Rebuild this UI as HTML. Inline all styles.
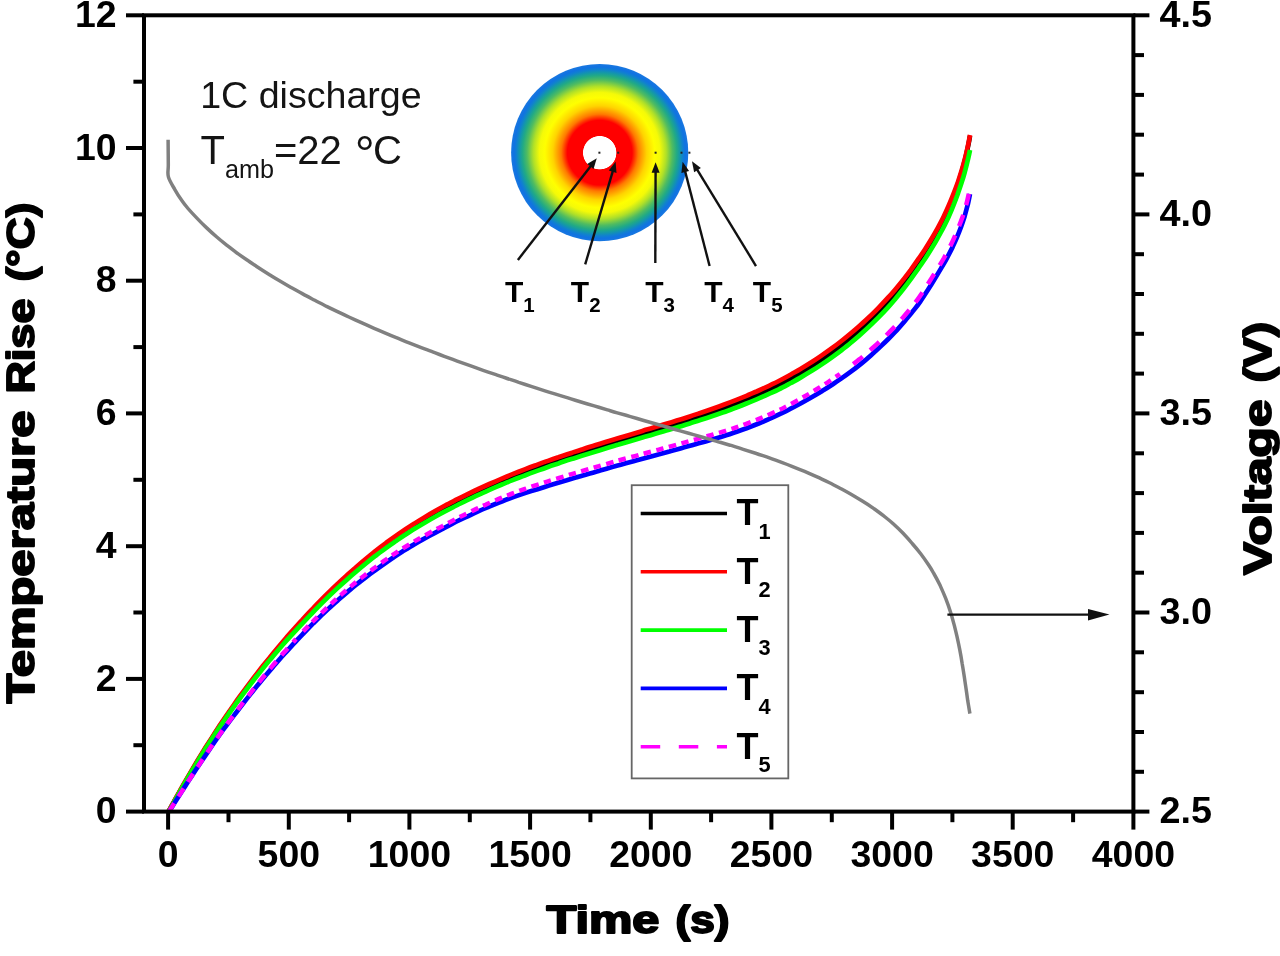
<!DOCTYPE html>
<html lang="en"><head><meta charset="utf-8"><title>Temperature rise and voltage during 1C discharge</title>
<style>
html,body{margin:0;padding:0;background:#fff;}
body{width:1280px;height:956px;overflow:hidden;}
svg{display:block;}
.tk{font-family:"Liberation Sans",Arial,sans-serif;font-weight:700;font-size:36.5px;fill:#000;}
.ax{font-family:"Liberation Sans",Arial,sans-serif;font-weight:700;font-size:38.6px;fill:#000;stroke:#000;stroke-width:1.9px;stroke-linejoin:round;}
.an{font-family:"Liberation Sans",Arial,sans-serif;font-weight:400;font-size:40px;fill:#141414;}
.lb{font-family:"Liberation Sans",Arial,sans-serif;font-weight:700;font-size:30px;fill:#000;}
.lg{font-family:"Liberation Sans",Arial,sans-serif;font-weight:700;font-size:36px;fill:#000;}
</style></head><body>
<svg width="1280" height="956" viewBox="0 0 1280 956">
<defs>
<radialGradient id="rg" cx="50%" cy="50%" r="50%">
<stop offset="0.000" stop-color="#ffffff"/>
<stop offset="0.184" stop-color="#ffffff"/>
<stop offset="0.192" stop-color="#ff0000"/>
<stop offset="0.365" stop-color="#ff0000"/>
<stop offset="0.435" stop-color="#ff7a00"/>
<stop offset="0.530" stop-color="#ffd400"/>
<stop offset="0.620" stop-color="#ffff00"/>
<stop offset="0.680" stop-color="#f4fa08"/>
<stop offset="0.750" stop-color="#b0e028"/>
<stop offset="0.820" stop-color="#50bc60"/>
<stop offset="0.870" stop-color="#22aa84"/>
<stop offset="0.905" stop-color="#1498a8"/>
<stop offset="0.940" stop-color="#1080d0"/>
<stop offset="0.968" stop-color="#1072e2"/>
<stop offset="1.000" stop-color="#1a78e0"/>
</radialGradient>
</defs>
<rect x="0" y="0" width="1280" height="956" fill="#ffffff"/>
<path d="M168.6 811.6C169.5 810.0 171.8 805.7 173.8 802.2C175.7 798.7 178.4 794.0 180.4 790.5C182.4 787.0 183.7 784.6 185.8 781.1C187.8 777.6 190.6 772.9 192.7 769.4C194.8 765.8 196.2 763.5 198.3 760.0C200.5 756.5 203.4 751.8 205.5 748.3C207.7 744.8 209.2 742.5 211.5 739.0C213.7 735.5 216.7 730.8 219.0 727.4C221.3 723.9 222.8 721.7 225.2 718.3C227.5 714.9 230.6 710.4 233.0 707.0C235.4 703.7 237.0 701.4 239.4 698.1C241.9 694.7 245.2 690.3 247.6 687.0C250.1 683.7 251.8 681.5 254.3 678.2C256.8 674.9 260.3 670.6 262.8 667.3C265.4 664.1 267.1 662.0 269.8 658.8C272.4 655.6 275.9 651.3 278.6 648.2C281.3 645.0 283.1 642.9 285.8 639.8C288.5 636.7 292.2 632.6 295.0 629.5C297.8 626.5 299.6 624.4 302.5 621.4C305.3 618.3 309.1 614.3 312.0 611.3C314.8 608.2 316.8 606.2 319.7 603.3C322.6 600.3 326.6 596.4 329.5 593.6C332.5 590.7 334.5 588.8 337.5 585.9C340.6 583.1 344.6 579.4 347.7 576.6C350.8 573.9 352.9 572.0 356.0 569.4C359.1 566.7 363.3 563.1 366.5 560.5C369.7 557.9 371.8 556.2 375.0 553.7C378.3 551.1 382.6 547.9 385.9 545.4C389.2 543.0 391.8 541.2 394.7 539.2C397.7 537.1 400.3 535.3 403.7 533.1C407.1 530.8 411.6 527.9 415.0 525.8C418.5 523.6 420.8 522.2 424.3 520.1C427.7 518.1 432.4 515.4 436.0 513.4C439.5 511.4 441.9 510.1 445.4 508.2C449.0 506.3 453.8 503.8 457.5 502.0C461.1 500.2 463.5 499.0 467.2 497.2C470.8 495.4 475.8 493.1 479.5 491.3C483.2 489.6 485.7 488.5 489.4 486.9C493.1 485.2 498.2 483.1 501.9 481.5C505.7 479.9 508.2 478.9 512.0 477.3C515.8 475.8 520.9 473.8 524.8 472.3C528.6 470.9 531.2 469.9 535.0 468.5C538.9 467.1 544.1 465.2 547.9 463.8C551.8 462.5 554.4 461.6 558.3 460.3C562.2 458.9 567.4 457.2 571.4 455.9C575.3 454.6 577.9 453.8 581.8 452.5C585.8 451.3 591.0 449.6 595.0 448.4C598.9 447.2 601.5 446.4 605.5 445.2C609.4 444.0 614.7 442.4 618.7 441.2C622.6 440.0 625.3 439.2 629.2 438.1C633.2 436.9 638.5 435.3 642.5 434.2C646.4 433.0 649.1 432.2 653.0 431.0C657.0 429.9 662.3 428.3 666.2 427.1C670.2 425.9 672.8 425.1 676.7 423.9C680.7 422.7 685.9 421.1 689.8 419.8C693.8 418.6 696.4 417.7 700.3 416.4C704.2 415.1 709.4 413.4 713.3 412.0C717.2 410.7 719.7 409.8 723.6 408.4C727.4 407.0 732.6 405.0 736.4 403.6C740.2 402.1 743.2 400.9 746.5 399.5C749.9 398.1 752.8 396.9 756.6 395.3C760.3 393.6 765.3 391.4 769.0 389.7C772.7 388.0 775.2 386.8 778.8 385.0C782.5 383.1 787.3 380.5 790.9 378.5C794.5 376.5 796.9 375.2 800.5 373.1C804.0 371.0 808.7 368.1 812.2 365.9C815.7 363.7 818.0 362.2 821.4 359.9C824.8 357.6 829.3 354.5 832.6 352.1C835.9 349.6 838.1 348.0 841.4 345.4C844.6 342.9 848.9 339.4 852.1 336.7C855.3 334.1 857.4 332.2 860.5 329.5C863.6 326.7 867.6 322.9 870.6 320.1C873.6 317.2 875.6 315.2 878.5 312.2C881.4 309.3 885.2 305.2 888.0 302.1C890.8 299.1 892.6 297.0 895.3 293.8C898.0 290.6 901.5 286.3 904.1 283.0C906.6 279.8 908.3 277.6 910.8 274.2C913.2 270.8 916.4 266.2 918.8 262.7C921.1 259.3 922.7 257.0 924.9 253.5C927.1 250.0 929.9 245.4 932.0 241.8C934.1 238.3 935.5 236.0 937.4 232.3C939.3 228.6 941.9 223.6 943.7 219.8C945.5 215.9 946.7 213.3 948.3 209.4C950.0 205.5 952.1 200.2 953.6 196.3C955.1 192.3 956.1 189.7 957.5 185.6C958.8 181.6 960.5 176.1 961.7 172.0C962.9 167.8 963.7 165.1 964.7 160.9C965.8 156.8 967.0 151.2 967.9 147.0C968.8 142.8 969.7 137.7 970.0 135.8" fill="none" stroke="#000000" stroke-width="4.7" stroke-linejoin="round"/>
<path d="M168.6 811.2C169.5 809.6 171.8 805.3 173.8 801.8C175.7 798.2 178.4 793.5 180.4 790.0C182.4 786.4 183.7 784.1 185.8 780.5C187.8 777.0 190.6 772.3 192.7 768.7C194.8 765.2 196.2 762.8 198.3 759.3C200.5 755.8 203.4 751.1 205.5 747.5C207.7 744.0 209.2 741.7 211.5 738.2C213.7 734.7 216.7 730.0 219.0 726.5C221.3 723.0 222.8 720.7 225.2 717.3C227.5 713.9 230.6 709.4 233.0 706.0C235.4 702.6 237.0 700.3 239.4 697.0C241.9 693.6 245.2 689.1 247.6 685.8C250.1 682.5 251.8 680.3 254.3 677.0C256.8 673.7 260.3 669.3 262.8 666.0C265.4 662.7 267.1 660.6 269.8 657.4C272.4 654.1 275.9 649.9 278.6 646.7C281.3 643.5 283.1 641.4 285.8 638.2C288.5 635.1 292.2 631.0 295.0 627.9C297.8 624.8 299.6 622.7 302.5 619.7C305.3 616.6 309.1 612.5 312.0 609.5C314.8 606.4 316.8 604.4 319.7 601.4C322.6 598.5 326.6 594.5 329.5 591.6C332.5 588.7 334.5 586.8 337.5 583.9C340.6 581.1 344.6 577.3 347.7 574.5C350.8 571.7 352.9 569.9 356.0 567.2C359.1 564.5 363.3 560.9 366.5 558.3C369.7 555.6 371.8 553.9 375.0 551.3C378.3 548.8 382.6 545.5 385.9 543.0C389.2 540.6 391.8 538.7 394.7 536.7C397.7 534.6 400.3 532.8 403.7 530.5C407.1 528.2 411.6 525.3 415.0 523.1C418.5 520.9 420.8 519.5 424.3 517.4C427.7 515.3 432.4 512.6 436.0 510.6C439.5 508.6 441.9 507.3 445.4 505.4C449.0 503.5 453.8 501.1 457.5 499.2C461.1 497.4 463.5 496.2 467.2 494.4C470.8 492.6 475.8 490.2 479.5 488.5C483.2 486.8 485.7 485.7 489.4 484.0C493.1 482.4 498.2 480.2 501.9 478.6C505.7 477.0 508.2 476.0 512.0 474.4C515.8 472.9 520.9 470.9 524.8 469.4C528.6 467.9 531.2 466.9 535.0 465.5C538.9 464.1 544.1 462.2 547.9 460.9C551.8 459.5 554.4 458.6 558.3 457.3C562.2 455.9 567.4 454.2 571.4 452.9C575.3 451.6 577.9 450.7 581.8 449.5C585.8 448.2 591.0 446.5 595.0 445.3C598.9 444.1 601.5 443.3 605.5 442.0C609.4 440.8 614.7 439.2 618.7 438.0C622.6 436.8 625.3 436.0 629.2 434.9C633.2 433.7 638.5 432.1 642.5 430.9C646.4 429.7 649.1 429.0 653.0 427.8C657.0 426.6 662.3 425.0 666.2 423.8C670.2 422.6 672.8 421.8 676.7 420.6C680.7 419.4 685.9 417.7 689.8 416.4C693.8 415.2 696.4 414.3 700.3 413.0C704.2 411.7 709.4 409.9 713.3 408.6C717.2 407.2 719.7 406.3 723.6 404.8C727.4 403.4 732.6 401.4 736.4 399.9C740.2 398.4 743.2 397.2 746.5 395.8C749.9 394.4 752.8 393.1 756.6 391.5C760.3 389.8 765.3 387.5 769.0 385.8C772.7 384.0 775.2 382.9 778.8 381.0C782.5 379.1 787.3 376.5 790.9 374.5C794.5 372.4 796.9 371.1 800.5 368.9C804.0 366.8 808.7 363.9 812.2 361.7C815.7 359.5 818.0 358.0 821.4 355.6C824.8 353.3 829.3 350.1 832.6 347.7C835.9 345.3 838.1 343.6 841.4 341.0C844.6 338.5 848.9 335.0 852.1 332.3C855.3 329.7 857.4 327.8 860.5 325.1C863.6 322.3 867.6 318.5 870.6 315.7C873.6 312.8 875.6 310.8 878.5 307.8C881.4 304.9 885.2 300.8 888.0 297.7C890.8 294.7 892.6 292.6 895.3 289.4C898.0 286.2 901.5 281.9 904.1 278.6C906.6 275.4 908.3 273.2 910.8 269.8C913.2 266.4 916.4 261.8 918.8 258.4C921.1 255.1 922.7 252.9 924.9 249.5C927.1 246.1 929.9 241.5 932.0 238.0C934.1 234.6 935.5 232.3 937.4 228.7C939.3 225.1 941.9 220.2 943.7 216.5C945.5 212.8 946.7 210.3 948.3 206.5C950.0 202.7 952.1 197.6 953.6 193.7C955.1 189.9 956.1 187.3 957.5 183.4C958.8 179.4 960.5 174.2 961.7 170.2C962.9 166.2 963.7 163.5 964.7 159.5C965.8 155.5 967.0 150.0 967.9 146.0C968.8 141.9 969.7 136.8 970.0 135.0" fill="none" stroke="#ff0000" stroke-width="4.7" stroke-linejoin="round"/>
<path d="M168.6 812.0C169.5 810.4 171.8 806.1 173.8 802.6C175.7 799.1 178.4 794.4 180.4 790.9C182.4 787.4 183.7 785.1 185.8 781.5C187.8 778.0 190.6 773.3 192.7 769.8C194.8 766.3 196.2 764.0 198.3 760.5C200.5 757.0 203.4 752.3 205.5 748.8C207.7 745.4 209.2 743.1 211.5 739.6C213.7 736.1 216.7 731.5 219.0 728.1C221.3 724.6 222.8 722.4 225.2 719.0C227.5 715.7 230.6 711.2 233.0 707.8C235.4 704.5 237.0 702.3 239.4 699.0C241.9 695.6 245.2 691.2 247.6 688.0C250.1 684.7 251.8 682.5 254.3 679.3C256.8 676.0 260.3 671.8 262.8 668.6C265.4 665.4 267.1 663.3 269.8 660.1C272.4 657.0 275.9 652.8 278.6 649.7C281.3 646.6 283.1 644.5 285.8 641.4C288.5 638.4 292.2 634.4 295.0 631.3C297.8 628.3 299.6 626.3 302.5 623.3C305.3 620.3 309.1 616.2 312.0 613.3C314.8 610.3 316.8 608.3 319.7 605.4C322.6 602.4 326.6 598.6 329.5 595.7C332.5 592.8 334.5 590.9 337.5 588.1C340.6 585.3 344.6 581.7 347.7 578.9C350.8 576.2 352.9 574.4 356.0 571.7C359.1 569.1 363.3 565.6 366.5 563.0C369.7 560.4 371.8 558.7 375.0 556.2C378.3 553.7 382.6 550.4 385.9 548.1C389.2 545.7 391.8 543.9 394.7 541.8C397.7 539.8 400.3 538.0 403.7 535.8C407.1 533.6 411.6 530.7 415.0 528.6C418.5 526.5 420.8 525.1 424.3 523.0C427.7 521.0 432.4 518.3 436.0 516.3C439.5 514.3 441.9 513.0 445.4 511.2C449.0 509.3 453.8 506.8 457.5 505.0C461.1 503.2 463.5 501.9 467.2 500.2C470.8 498.4 475.8 496.1 479.5 494.4C483.2 492.7 485.7 491.5 489.4 489.9C493.1 488.3 498.2 486.1 501.9 484.5C505.7 483.0 508.2 481.9 512.0 480.4C515.8 478.9 520.9 476.9 524.8 475.5C528.6 474.0 531.2 473.0 535.0 471.6C538.9 470.2 544.1 468.4 547.9 467.0C551.8 465.6 554.4 464.8 558.3 463.5C562.2 462.1 567.4 460.4 571.4 459.1C575.3 457.9 577.9 457.0 581.8 455.8C585.8 454.6 591.0 452.9 595.0 451.7C598.9 450.5 601.5 449.7 605.5 448.5C609.4 447.3 614.7 445.7 618.7 444.6C622.6 443.4 625.3 442.6 629.2 441.5C633.2 440.3 638.5 438.8 642.5 437.6C646.4 436.4 649.1 435.7 653.0 434.5C657.0 433.3 662.3 431.8 666.2 430.6C670.2 429.4 672.8 428.7 676.7 427.5C680.7 426.2 685.9 424.6 689.8 423.4C693.8 422.1 696.4 421.3 700.3 420.0C704.2 418.7 709.4 417.1 713.3 415.8C717.2 414.5 719.7 413.6 723.6 412.2C727.4 410.8 732.6 409.0 736.4 407.5C740.2 406.1 743.2 404.9 746.5 403.5C749.9 402.2 752.8 401.0 756.6 399.4C760.3 397.8 765.3 395.6 769.0 393.9C772.7 392.2 775.2 391.1 778.8 389.3C782.5 387.5 787.3 384.9 790.9 383.0C794.5 381.0 796.9 379.7 800.5 377.6C804.0 375.5 808.7 372.7 812.2 370.6C815.7 368.4 818.0 366.9 821.4 364.6C824.8 362.4 829.3 359.3 832.6 356.9C835.9 354.5 838.1 352.9 841.4 350.4C844.6 347.8 848.9 344.4 852.1 341.7C855.3 339.1 857.4 337.2 860.5 334.5C863.6 331.7 867.6 328.0 870.6 325.1C873.6 322.3 875.6 320.3 878.5 317.4C881.4 314.4 885.2 310.4 888.0 307.3C890.8 304.2 892.6 302.1 895.3 298.9C898.0 295.7 901.5 291.3 904.1 288.0C906.6 284.7 908.3 282.4 910.8 279.1C913.2 275.7 916.4 271.1 918.8 267.8C921.1 264.4 922.7 262.3 924.9 259.0C927.1 255.7 929.9 251.2 932.0 247.8C934.1 244.4 935.5 242.1 937.4 238.6C939.3 235.1 941.9 230.5 943.7 227.0C945.5 223.5 946.7 221.2 948.3 217.6C950.0 213.9 952.1 208.9 953.6 205.0C955.1 201.2 956.1 198.5 957.5 194.7C958.8 190.9 960.5 186.0 961.7 182.3C962.9 178.6 963.7 176.1 964.7 172.3C965.8 168.6 967.0 163.5 967.9 159.7C968.8 156.0 969.7 151.6 970.0 150.0" fill="none" stroke="#00ff00" stroke-width="4.7" stroke-linejoin="round"/>
<path d="M169.2 811.4C170.2 809.8 172.9 805.5 175.1 802.0C177.3 798.6 180.2 793.9 182.4 790.5C184.6 787.0 186.1 784.8 188.3 781.3C190.5 777.9 193.5 773.4 195.7 770.0C198.0 766.6 199.4 764.4 201.7 761.0C203.9 757.6 207.0 753.2 209.2 749.9C211.5 746.5 213.0 744.3 215.3 741.0C217.6 737.7 220.6 733.4 222.9 730.2C225.3 727.0 226.8 725.0 229.1 721.8C231.5 718.7 234.6 714.6 237.0 711.5C239.3 708.4 240.9 706.3 243.3 703.2C245.7 700.2 248.9 696.1 251.3 693.1C253.7 690.0 255.4 688.0 257.8 685.0C260.3 682.0 263.6 678.0 266.1 675.0C268.6 672.0 270.3 670.0 272.8 667.1C275.4 664.2 278.8 660.2 281.3 657.3C283.9 654.4 285.7 652.5 288.3 649.6C290.9 646.7 294.4 642.8 297.1 640.0C299.8 637.1 301.6 635.3 304.3 632.5C307.0 629.7 310.7 626.0 313.4 623.2C316.2 620.5 318.1 618.6 320.9 615.9C323.7 613.2 327.5 609.7 330.4 607.0C333.2 604.4 335.1 602.6 338.1 600.1C341.0 597.5 344.9 594.1 347.9 591.6C350.9 589.1 352.9 587.4 355.9 585.0C359.0 582.5 363.0 579.3 366.1 577.0C369.2 574.6 371.3 573.1 374.5 570.8C377.6 568.5 381.9 565.4 385.1 563.2C388.3 560.9 390.8 559.2 393.7 557.2C396.6 555.3 399.2 553.6 402.5 551.5C405.9 549.4 410.4 546.6 413.8 544.6C417.2 542.6 419.4 541.3 422.9 539.4C426.4 537.5 431.0 535.0 434.5 533.1C438.0 531.2 440.3 530.0 443.9 528.1C447.4 526.3 452.1 523.8 455.6 522.0C459.2 520.3 461.6 519.1 465.2 517.4C468.7 515.7 473.5 513.5 477.1 511.8C480.7 510.2 483.2 509.1 486.8 507.6C490.5 506.0 495.3 504.0 499.0 502.5C502.7 501.1 505.1 500.1 508.8 498.8C512.6 497.4 517.5 495.7 521.3 494.4C525.0 493.1 527.5 492.3 531.3 491.1C535.1 489.9 540.1 488.4 543.9 487.2C547.7 486.0 550.2 485.2 554.0 484.0C557.8 482.8 562.9 481.3 566.8 480.2C570.6 479.0 573.2 478.3 577.0 477.2C580.9 476.0 586.0 474.6 589.8 473.5C593.7 472.3 596.3 471.6 600.1 470.5C604.0 469.4 609.1 467.9 613.0 466.8C616.8 465.8 619.4 465.0 623.3 464.0C627.1 462.9 632.3 461.6 636.1 460.5C640.0 459.5 642.5 458.8 646.4 457.7C650.2 456.7 655.3 455.3 659.2 454.3C663.0 453.2 665.6 452.5 669.4 451.5C673.2 450.4 678.3 449.1 682.1 448.0C685.8 447.0 688.4 446.2 692.1 445.2C695.9 444.1 700.9 442.7 704.7 441.7C708.4 440.6 710.9 439.9 714.6 438.8C718.3 437.7 723.3 436.2 727.0 435.1C730.7 433.9 733.5 432.9 736.8 431.8C740.0 430.7 742.9 429.7 746.6 428.3C750.2 426.9 755.0 425.0 758.7 423.5C762.3 422.0 764.7 421.0 768.3 419.4C771.9 417.8 776.7 415.6 780.2 413.9C783.8 412.2 786.2 411.1 789.7 409.2C793.3 407.4 798.0 404.9 801.5 403.0C805.0 401.1 807.3 399.8 810.8 397.8C814.2 395.8 818.8 393.0 822.3 390.9C825.7 388.8 828.0 387.4 831.3 385.2C834.7 382.9 839.2 379.9 842.5 377.6C845.8 375.4 848.0 373.8 851.2 371.4C854.5 369.0 858.7 365.7 861.9 363.1C865.1 360.6 867.2 358.7 870.3 355.9C873.3 353.2 877.4 349.5 880.4 346.6C883.4 343.8 885.4 341.9 888.3 339.0C891.2 336.0 895.0 332.1 897.8 329.1C900.6 326.0 902.4 324.0 905.1 320.8C907.7 317.6 911.2 313.4 913.8 310.1C916.4 306.9 918.0 304.8 920.4 301.3C922.9 297.8 926.0 292.9 928.3 289.3C930.6 285.7 932.1 283.2 934.2 279.7C936.4 276.2 939.2 271.5 941.2 268.1C943.2 264.7 944.5 262.6 946.3 259.3C948.1 255.9 950.5 251.3 952.2 247.9C953.8 244.4 954.9 242.1 956.4 238.6C957.9 235.0 959.8 230.3 961.1 226.7C962.4 223.1 963.2 220.7 964.4 217.0C965.5 213.2 966.8 208.2 967.8 204.4C968.7 200.5 969.6 195.7 970.0 194.0" fill="none" stroke="#0000ff" stroke-width="4.7" stroke-linejoin="round"/>
<path d="M169.2 811.4C170.2 809.8 172.8 805.5 175.0 802.0C177.2 798.5 180.2 793.9 182.4 790.5C184.6 787.0 186.0 784.7 188.2 781.3C190.5 777.9 193.4 773.3 195.6 769.9C197.9 766.5 199.3 764.3 201.6 760.9C203.8 757.6 206.8 753.1 209.1 749.8C211.3 746.4 212.9 744.2 215.1 740.9C217.4 737.6 220.5 733.3 222.7 730.1C225.0 726.9 226.5 724.8 228.9 721.6C231.2 718.5 234.3 714.3 236.6 711.2C238.9 708.0 240.5 706.0 242.8 702.9C245.2 699.8 248.4 695.7 250.8 692.6C253.2 689.5 254.8 687.5 257.2 684.5C259.6 681.4 262.9 677.4 265.4 674.4C267.8 671.4 269.5 669.4 272.0 666.4C274.5 663.4 277.9 659.5 280.4 656.5C283.0 653.6 284.7 651.6 287.3 648.7C289.9 645.8 294.6 640.6 296.0 639.0" fill="none" stroke="#ff00ff" stroke-width="4.5" stroke-dasharray="9.5 8" stroke-linejoin="round"/>
<path d="M303.2 631.4C304.7 629.8 309.5 624.8 312.3 622.0C315.0 619.3 316.9 617.4 319.7 614.7C322.5 612.0 326.2 608.4 329.1 605.7C332.0 603.0 333.9 601.2 336.8 598.6C339.7 596.0 343.6 592.6 346.6 590.0C349.6 587.5 351.6 585.8 354.6 583.3C357.6 580.8 361.7 577.6 364.8 575.2C367.9 572.8 369.9 571.2 373.1 568.9C376.2 566.5 380.5 563.5 383.7 561.2C386.9 558.9 389.5 557.1 392.4 555.2C395.3 553.2 397.9 551.5 401.2 549.4C404.6 547.3 409.1 544.5 412.5 542.5C415.9 540.5 418.2 539.1 421.7 537.2C425.2 535.3 429.8 532.7 433.3 530.9C436.8 529.0 439.1 527.7 442.7 525.9C446.2 524.0 450.9 521.6 454.5 519.7C458.0 517.9 460.4 516.7 464.0 514.9C467.6 513.2 472.3 510.8 475.9 509.1C479.5 507.4 481.9 506.3 485.6 504.7C489.2 503.0 494.1 500.9 497.7 499.4C501.4 497.8 503.9 496.8 507.6 495.4C511.3 493.9 516.3 492.1 520.0 490.7C523.7 489.4 526.3 488.5 530.0 487.2C533.8 485.9 538.8 484.3 542.6 483.1C546.4 481.8 548.9 481.0 552.8 479.8C556.6 478.7 561.7 477.1 565.5 476.0C569.4 474.8 571.9 474.0 575.8 472.9C579.6 471.8 584.7 470.3 588.6 469.1C592.4 468.0 595.0 467.3 598.9 466.2C602.7 465.0 607.9 463.6 611.7 462.4C615.6 461.3 618.2 460.6 622.1 459.5C625.9 458.5 631.1 457.1 634.9 456.1C638.8 455.0 641.3 454.3 645.2 453.3C649.0 452.3 654.1 450.9 658.0 449.8C661.8 448.8 664.3 448.1 668.2 447.1C672.0 446.0 677.0 444.6 680.8 443.6C684.6 442.5 687.1 441.8 690.9 440.8C694.7 439.7 699.7 438.3 703.4 437.3C707.2 436.2 709.6 435.6 713.3 434.5C717.0 433.4 722.0 432.0 725.6 430.9C729.3 429.7 732.1 428.8 735.4 427.7C738.6 426.6 741.4 425.7 745.0 424.3C748.7 423.0 753.5 421.1 757.1 419.7C760.7 418.2 763.1 417.2 766.6 415.7C770.2 414.1 775.0 412.0 778.5 410.3C782.1 408.7 784.4 407.4 787.9 405.6C791.4 403.8 796.0 401.3 799.5 399.4C802.9 397.4 805.2 396.1 808.6 394.1C812.1 392.1 816.6 389.3 820.0 387.2C823.4 385.1 825.6 383.7 828.9 381.5C832.2 379.3 838.1 375.2 839.9 374.0" fill="none" stroke="#ff00ff" stroke-width="4.5" stroke-dasharray="7.5 5.5" stroke-linejoin="round"/>
<path d="M848.5 367.8C850.3 366.4 855.9 362.1 859.0 359.6C862.2 357.1 864.3 355.3 867.3 352.7C870.4 350.0 874.5 346.3 877.5 343.6C880.5 340.8 882.5 339.0 885.4 336.1C888.3 333.3 892.1 329.4 894.9 326.5C897.7 323.5 899.5 321.5 902.2 318.4C904.9 315.3 908.4 311.1 911.0 307.9C913.6 304.7 915.2 302.7 917.7 299.3C920.1 295.9 923.3 291.1 925.6 287.5C927.9 284.0 929.4 281.6 931.6 278.1C933.8 274.6 936.7 270.0 938.7 266.7C940.8 263.3 942.1 261.3 944.0 258.0C945.8 254.7 948.2 250.2 949.9 246.8C951.7 243.4 952.7 241.1 954.2 237.7C955.8 234.2 957.7 229.5 959.1 226.0C960.5 222.5 961.4 220.1 962.7 216.5C963.9 212.8 965.4 207.8 966.4 204.0C967.4 200.3 968.4 195.5 968.8 193.7" fill="none" stroke="#ff00ff" stroke-width="4.5" stroke-dasharray="12 10" stroke-dashoffset="-6" stroke-linejoin="round"/>
<path d="M168.1 139.7C168.1 143.9 168.3 158.8 168.3 165.0C168.3 171.2 167.3 172.9 168.4 176.9C169.5 180.9 172.4 185.3 174.7 189.3C176.9 193.3 179.7 197.5 182.0 200.7C184.2 203.9 185.6 205.6 188.0 208.5C190.5 211.4 193.8 214.9 196.9 218.1C199.9 221.3 203.1 224.5 206.4 227.6C209.7 230.7 213.5 234.2 216.5 236.8C219.5 239.4 221.3 240.9 224.5 243.4C227.6 245.9 231.7 249.0 235.4 251.8C239.1 254.5 242.9 257.2 246.7 259.8C250.5 262.4 254.3 264.9 258.2 267.5C262.1 270.0 266.4 272.7 269.9 274.9C273.3 277.0 275.2 278.2 278.7 280.2C282.2 282.3 286.6 284.9 290.6 287.2C294.6 289.4 298.6 291.7 302.7 293.9C306.7 296.1 310.8 298.2 314.8 300.3C318.9 302.4 323.5 304.8 327.1 306.6C330.7 308.4 332.8 309.4 336.4 311.1C340.1 312.8 344.7 315.1 348.9 317.0C353.1 318.9 357.2 320.8 361.4 322.7C365.6 324.6 370.4 326.7 374.1 328.3C377.7 329.9 379.9 330.8 383.6 332.3C387.3 333.9 392.0 335.9 396.3 337.6C400.5 339.3 404.8 341.1 409.1 342.8C413.3 344.4 417.6 346.1 421.9 347.8C426.1 349.4 430.9 351.3 434.7 352.7C438.4 354.1 440.6 354.9 444.3 356.3C448.1 357.7 452.9 359.5 457.2 361.1C461.5 362.6 465.8 364.2 470.1 365.7C474.4 367.3 478.7 368.8 483.1 370.3C487.4 371.8 492.3 373.4 496.0 374.7C499.8 376.0 502.0 376.8 505.8 378.0C509.6 379.3 514.5 380.9 518.8 382.4C523.2 383.8 527.5 385.2 531.9 386.6C536.2 388.0 541.1 389.6 544.9 390.8C548.7 392.0 550.9 392.7 554.8 393.9C558.6 395.1 563.5 396.6 567.9 397.9C572.2 399.3 576.6 400.6 581.0 402.0C585.4 403.3 589.8 404.6 594.2 405.9C598.6 407.2 603.5 408.7 607.4 409.9C611.2 411.0 613.4 411.6 617.3 412.8C621.1 413.9 626.1 415.3 630.5 416.6C634.9 417.9 639.3 419.2 643.7 420.5C648.1 421.7 652.6 423.0 657.0 424.3C661.4 425.5 666.4 426.9 670.3 428.0C674.1 429.1 676.4 429.8 680.2 430.9C684.1 432.0 689.1 433.4 693.5 434.6C698.0 435.9 702.4 437.1 706.8 438.4C711.3 439.7 716.3 441.1 720.1 442.3C724.0 443.4 726.2 444.1 730.1 445.2C733.9 446.4 738.9 447.9 743.2 449.3C747.6 450.7 752.0 452.1 756.4 453.5C760.7 455.0 765.1 456.4 769.4 457.9C773.7 459.5 778.6 461.2 782.3 462.6C786.1 464.0 788.2 464.8 791.9 466.3C795.6 467.8 800.4 469.7 804.6 471.4C808.8 473.2 813.0 475.0 817.1 476.9C821.3 478.8 825.4 480.8 829.5 482.8C833.5 484.8 838.1 487.2 841.6 489.0C845.1 490.9 847.1 492.0 850.6 494.0C854.0 496.0 858.5 498.7 862.3 501.1C866.2 503.5 870.1 506.0 873.9 508.6C877.6 511.3 881.9 514.4 885.1 517.0C888.3 519.5 890.2 521.0 893.2 523.8C896.2 526.5 899.9 530.0 903.1 533.3C906.2 536.6 909.3 540.0 912.2 543.5C915.2 546.9 918.0 550.3 920.7 553.8C923.4 557.4 926.3 561.5 928.5 564.8C930.7 568.1 931.9 570.0 933.8 573.5C935.8 576.9 938.2 581.5 940.2 585.6C942.1 589.8 944.0 594.1 945.7 598.4C947.4 602.8 949.0 607.3 950.4 611.7C951.9 616.2 953.2 621.4 954.3 625.4C955.3 629.4 955.9 631.7 956.8 635.7C957.7 639.7 958.8 644.9 959.7 649.4C960.6 654.0 961.4 658.6 962.1 663.2C962.9 667.7 963.7 672.8 964.3 676.8C964.9 680.8 965.2 683.0 965.8 687.0C966.4 690.9 967.1 695.9 967.7 700.4C968.4 704.8 969.5 711.4 969.9 713.6" fill="none" stroke="#808080" stroke-width="3.5" stroke-linejoin="round" stroke-linecap="butt"/>
<g stroke="#000" stroke-width="4.0" fill="none" stroke-linecap="butt">
<rect x="144.0" y="15.3" width="989.4" height="796.3"/>
<line x1="126.0" y1="811.6" x2="144.0" y2="811.6"/>
<line x1="133.4" y1="745.2" x2="144.0" y2="745.2"/>
<line x1="126.0" y1="678.9" x2="144.0" y2="678.9"/>
<line x1="133.4" y1="612.5" x2="144.0" y2="612.5"/>
<line x1="126.0" y1="546.2" x2="144.0" y2="546.2"/>
<line x1="133.4" y1="479.8" x2="144.0" y2="479.8"/>
<line x1="126.0" y1="413.4" x2="144.0" y2="413.4"/>
<line x1="133.4" y1="347.1" x2="144.0" y2="347.1"/>
<line x1="126.0" y1="280.7" x2="144.0" y2="280.7"/>
<line x1="133.4" y1="214.4" x2="144.0" y2="214.4"/>
<line x1="126.0" y1="148.0" x2="144.0" y2="148.0"/>
<line x1="133.4" y1="81.7" x2="144.0" y2="81.7"/>
<line x1="126.0" y1="15.3" x2="144.0" y2="15.3"/>
<line x1="1133.4" y1="811.6" x2="1149.4" y2="811.6"/>
<line x1="1133.4" y1="771.8" x2="1144.0" y2="771.8"/>
<line x1="1133.4" y1="732.0" x2="1144.0" y2="732.0"/>
<line x1="1133.4" y1="692.2" x2="1144.0" y2="692.2"/>
<line x1="1133.4" y1="652.3" x2="1144.0" y2="652.3"/>
<line x1="1133.4" y1="612.5" x2="1149.4" y2="612.5"/>
<line x1="1133.4" y1="572.7" x2="1144.0" y2="572.7"/>
<line x1="1133.4" y1="532.9" x2="1144.0" y2="532.9"/>
<line x1="1133.4" y1="493.1" x2="1144.0" y2="493.1"/>
<line x1="1133.4" y1="453.3" x2="1144.0" y2="453.3"/>
<line x1="1133.4" y1="413.4" x2="1149.4" y2="413.4"/>
<line x1="1133.4" y1="373.6" x2="1144.0" y2="373.6"/>
<line x1="1133.4" y1="333.8" x2="1144.0" y2="333.8"/>
<line x1="1133.4" y1="294.0" x2="1144.0" y2="294.0"/>
<line x1="1133.4" y1="254.2" x2="1144.0" y2="254.2"/>
<line x1="1133.4" y1="214.4" x2="1149.4" y2="214.4"/>
<line x1="1133.4" y1="174.6" x2="1144.0" y2="174.6"/>
<line x1="1133.4" y1="134.7" x2="1144.0" y2="134.7"/>
<line x1="1133.4" y1="94.9" x2="1144.0" y2="94.9"/>
<line x1="1133.4" y1="55.1" x2="1144.0" y2="55.1"/>
<line x1="1133.4" y1="15.3" x2="1149.4" y2="15.3"/>
<line x1="168.1" y1="811.6" x2="168.1" y2="829.6"/>
<line x1="228.5" y1="811.6" x2="228.5" y2="822.2"/>
<line x1="288.8" y1="811.6" x2="288.8" y2="829.6"/>
<line x1="349.1" y1="811.6" x2="349.1" y2="822.2"/>
<line x1="409.4" y1="811.6" x2="409.4" y2="829.6"/>
<line x1="469.8" y1="811.6" x2="469.8" y2="822.2"/>
<line x1="530.1" y1="811.6" x2="530.1" y2="829.6"/>
<line x1="590.4" y1="811.6" x2="590.4" y2="822.2"/>
<line x1="650.8" y1="811.6" x2="650.8" y2="829.6"/>
<line x1="711.1" y1="811.6" x2="711.1" y2="822.2"/>
<line x1="771.4" y1="811.6" x2="771.4" y2="829.6"/>
<line x1="831.8" y1="811.6" x2="831.8" y2="822.2"/>
<line x1="892.1" y1="811.6" x2="892.1" y2="829.6"/>
<line x1="952.4" y1="811.6" x2="952.4" y2="822.2"/>
<line x1="1012.7" y1="811.6" x2="1012.7" y2="829.6"/>
<line x1="1073.1" y1="811.6" x2="1073.1" y2="822.2"/>
<line x1="1133.4" y1="811.6" x2="1133.4" y2="829.6"/>
</g>
<text class="tk" x="116.5" y="823.2" text-anchor="end" textLength="20.8" lengthAdjust="spacingAndGlyphs">0</text>
<text class="tk" x="116.5" y="690.5" text-anchor="end" textLength="20.8" lengthAdjust="spacingAndGlyphs">2</text>
<text class="tk" x="116.5" y="557.8" text-anchor="end" textLength="20.8" lengthAdjust="spacingAndGlyphs">4</text>
<text class="tk" x="116.5" y="425.1" text-anchor="end" textLength="20.8" lengthAdjust="spacingAndGlyphs">6</text>
<text class="tk" x="116.5" y="292.3" text-anchor="end" textLength="20.8" lengthAdjust="spacingAndGlyphs">8</text>
<text class="tk" x="116.5" y="159.6" text-anchor="end" textLength="41.6" lengthAdjust="spacingAndGlyphs">10</text>
<text class="tk" x="116.5" y="26.9" text-anchor="end" textLength="41.6" lengthAdjust="spacingAndGlyphs">12</text>
<text class="tk" x="1159.5" y="823.1" text-anchor="start" textLength="52.5" lengthAdjust="spacingAndGlyphs">2.5</text>
<text class="tk" x="1159.5" y="624.0" text-anchor="start" textLength="52.5" lengthAdjust="spacingAndGlyphs">3.0</text>
<text class="tk" x="1159.5" y="424.9" text-anchor="start" textLength="52.5" lengthAdjust="spacingAndGlyphs">3.5</text>
<text class="tk" x="1159.5" y="225.9" text-anchor="start" textLength="52.5" lengthAdjust="spacingAndGlyphs">4.0</text>
<text class="tk" x="1159.5" y="26.8" text-anchor="start" textLength="52.5" lengthAdjust="spacingAndGlyphs">4.5</text>
<text class="tk" x="168.1" y="867.0" text-anchor="middle" textLength="20.8" lengthAdjust="spacingAndGlyphs">0</text>
<text class="tk" x="288.8" y="867.0" text-anchor="middle" textLength="62.4" lengthAdjust="spacingAndGlyphs">500</text>
<text class="tk" x="409.4" y="867.0" text-anchor="middle" textLength="83.2" lengthAdjust="spacingAndGlyphs">1000</text>
<text class="tk" x="530.1" y="867.0" text-anchor="middle" textLength="83.2" lengthAdjust="spacingAndGlyphs">1500</text>
<text class="tk" x="650.8" y="867.0" text-anchor="middle" textLength="83.2" lengthAdjust="spacingAndGlyphs">2000</text>
<text class="tk" x="771.4" y="867.0" text-anchor="middle" textLength="83.2" lengthAdjust="spacingAndGlyphs">2500</text>
<text class="tk" x="892.1" y="867.0" text-anchor="middle" textLength="83.2" lengthAdjust="spacingAndGlyphs">3000</text>
<text class="tk" x="1012.7" y="867.0" text-anchor="middle" textLength="83.2" lengthAdjust="spacingAndGlyphs">3500</text>
<text class="tk" x="1133.4" y="867.0" text-anchor="middle" textLength="83.2" lengthAdjust="spacingAndGlyphs">4000</text>
<g transform="translate(0 933.2)">
<text class="ax" y="0" style="font-size:38.0px"><tspan x="546.5" textLength="113.0" lengthAdjust="spacingAndGlyphs">Time</tspan> <tspan x="675.5" textLength="54.0" lengthAdjust="spacingAndGlyphs">(s)</tspan></text>
</g>
<g transform="translate(33.6 703.6) rotate(-90)">
<text class="ax" y="0" style="font-size:39.7px"><tspan x="0.0" textLength="293.0" lengthAdjust="spacingAndGlyphs">Temperature</tspan> <tspan x="310.0" textLength="95.0" lengthAdjust="spacingAndGlyphs">Rise</tspan> <tspan x="422.0" textLength="79.0" lengthAdjust="spacingAndGlyphs">(°C)</tspan></text>
</g>
<g transform="translate(1270.6 575.0) rotate(-90)">
<text class="ax" y="0" style="font-size:39.7px"><tspan x="0.0" textLength="175.5" lengthAdjust="spacingAndGlyphs">Voltage</tspan> <tspan x="192.5" textLength="60.5" lengthAdjust="spacingAndGlyphs">(V)</tspan></text>
</g>
<text class="an" x="200.2" y="107.6" style="font-size:36.2px" textLength="221.5" lengthAdjust="spacingAndGlyphs">1C discharge</text>
<text class="an" x="200.5" y="163.8">T<tspan font-size="25.2" dy="14.6">amb</tspan><tspan dy="-14.6">=22 </tspan><tspan x="354.8" y="170.6" font-size="50.0">°</tspan><tspan x="373.0" y="163.8">C</tspan></text>
<circle cx="599.7" cy="152.7" r="88.6" fill="url(#rg)"/>
<rect x="598.4" y="151.7" width="2" height="2" fill="#222"/>
<rect x="617.2" y="151.7" width="2" height="2" fill="#222"/>
<rect x="654.6" y="151.7" width="2" height="2" fill="#222"/>
<rect x="680.5" y="151.7" width="2" height="2" fill="#222"/>
<rect x="688.4" y="151.7" width="2" height="2" fill="#222"/>
<line x1="517.9" y1="259.9" x2="591.0" y2="165.8" stroke="#111" stroke-width="2.4"/>
<polygon points="596.8,158.3 593.5,169.0 587.2,164.1" fill="#111"/>
<line x1="585.2" y1="264.4" x2="612.9" y2="170.8" stroke="#111" stroke-width="2.4"/>
<polygon points="615.6,161.7 616.5,172.9 608.8,170.6" fill="#111"/>
<line x1="655.3" y1="262.9" x2="655.6" y2="171.8" stroke="#111" stroke-width="2.4"/>
<polygon points="655.6,162.3 659.6,172.8 651.6,172.8" fill="#111"/>
<line x1="709.6" y1="266.0" x2="685.0" y2="170.9" stroke="#111" stroke-width="2.4"/>
<polygon points="682.6,161.7 689.1,170.9 681.4,172.9" fill="#111"/>
<line x1="756.0" y1="266.0" x2="697.0" y2="169.3" stroke="#111" stroke-width="2.4"/>
<polygon points="692.0,161.2 700.9,168.1 694.1,172.2" fill="#111"/>
<text class="lb" x="505.0" y="302.4">T<tspan font-size="20.5" dy="9.3">1</tspan></text>
<text class="lb" x="570.8" y="302.4">T<tspan font-size="20.5" dy="9.3">2</tspan></text>
<text class="lb" x="645.2" y="302.4">T<tspan font-size="20.5" dy="9.3">3</tspan></text>
<text class="lb" x="704.2" y="302.4">T<tspan font-size="20.5" dy="9.3">4</tspan></text>
<text class="lb" x="752.8" y="302.4">T<tspan font-size="20.5" dy="9.3">5</tspan></text>
<line x1="947.4" y1="614.6" x2="1089.0" y2="614.6" stroke="#111" stroke-width="2.4"/>
<polygon points="1109.5,614.6 1088.0,620.4 1088.0,608.9" fill="#111"/>
<rect x="631.7" y="485.2" width="156.6" height="293.2" fill="#fff" stroke="#666666" stroke-width="1.8"/>
<line x1="640.7" y1="513.5" x2="727" y2="513.5" stroke="#000000" stroke-width="3.6"/>
<text class="lg" x="736.5" y="525.3">T<tspan font-size="21.8" dy="13.3">1</tspan></text>
<line x1="640.7" y1="571.8" x2="727" y2="571.8" stroke="#ff0000" stroke-width="3.6"/>
<text class="lg" x="736.5" y="583.6">T<tspan font-size="21.8" dy="13.3">2</tspan></text>
<line x1="640.7" y1="630.1" x2="727" y2="630.1" stroke="#00ff00" stroke-width="3.6"/>
<text class="lg" x="736.5" y="641.9">T<tspan font-size="21.8" dy="13.3">3</tspan></text>
<line x1="640.7" y1="688.4" x2="727" y2="688.4" stroke="#0000ff" stroke-width="3.6"/>
<text class="lg" x="736.5" y="700.2">T<tspan font-size="21.8" dy="13.3">4</tspan></text>
<line x1="640.7" y1="746.7" x2="727" y2="746.7" stroke="#ff00ff" stroke-width="3.6" stroke-dasharray="19.5 18.6"/>
<text class="lg" x="736.5" y="758.5">T<tspan font-size="21.8" dy="13.3">5</tspan></text>
</svg>
</body></html>
